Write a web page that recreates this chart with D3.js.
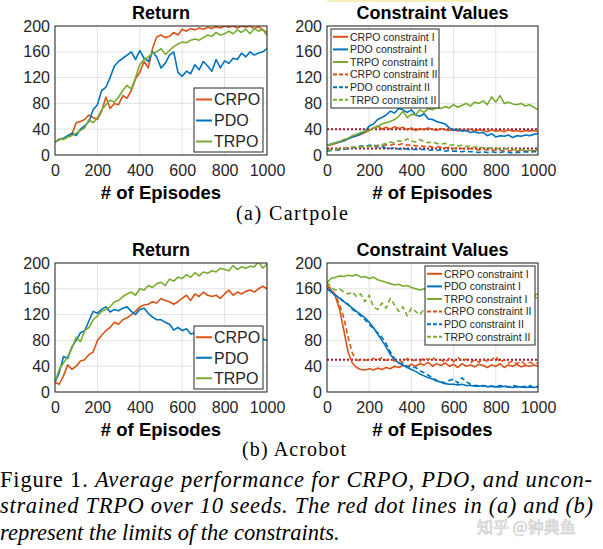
<!DOCTYPE html>
<html>
<head>
<meta charset="utf-8">
<script src="https://cdn.jsdelivr.net/npm/d3@7"></script>
<style>
  body { margin: 0; background: #fff; }
  svg { display: block; }
</style>
</head>
<body>
<div id="d3"></div>
<script>
// episodes are sampled every 20
const episodes = d3.range(0, 1001, 20);
const xTicks = [0, 200, 400, 600, 800, 1000];
const yTicks = [0, 40, 80, 120, 160, 200];

// Cartpole - return
const cartCrpoReturn = [20,24,25,28,32,50,52,55,62,58,55,68,90,72,80,78,92,88,100,118,128,145,135,165,183,186,182,184,190,186,195,192,196,194,197,195,198,196,199,197,200,198,200,197,200,198,200,196,199,194,190];
const cartPdoReturn = [20,24,26,30,34,30,40,45,52,70,78,100,105,120,138,145,150,155,160,148,162,150,145,160,152,135,142,155,160,128,122,130,126,140,132,145,138,130,148,135,146,142,150,148,158,152,160,155,158,160,165];
const cartTrpoReturn = [20,25,24,28,30,34,38,42,55,50,58,70,78,85,82,90,100,108,102,120,140,148,152,158,160,165,156,162,168,172,175,174,178,180,178,182,186,184,190,186,188,192,188,194,190,195,188,196,192,195,185];

// Cartpole - constraint values
const cartCrpoC1 = [15,16,18,20,22,25,28,30,32,35,38,42,45,40,43,40,44,41,43,39,42,38,41,39,42,40,38,41,39,38,40,37,39,38,40,37,39,38,36,39,37,38,36,39,37,38,36,38,37,38,36];
const cartPdoC1 = [15,17,19,20,22,25,28,30,33,36,45,48,55,58,62,68,65,72,70,66,70,62,60,64,56,55,52,50,48,42,38,40,37,38,35,36,34,35,30,33,28,30,29,31,27,30,29,31,30,32,33];
const cartTrpoC1 = [15,17,19,21,24,26,30,32,35,37,38,42,44,48,50,52,55,60,68,58,63,62,70,66,72,70,74,72,75,73,78,74,77,80,76,82,80,84,78,90,82,92,80,82,79,78,80,76,78,74,70];
const cartCrpoC2 = [8,9,9,10,10,11,12,12,13,13,14,13,15,14,16,15,17,16,18,15,16,14,15,13,14,12,13,12,11,12,10,11,10,9,10,9,8,9,8,7,8,7,7,6,7,6,7,6,6,7,6];
const cartPdoC2 = [6,7,8,8,9,10,11,12,14,13,15,16,12,13,11,10,11,9,10,9,8,9,8,9,7,8,7,8,6,7,6,6,5,6,5,5,4,5,4,5,4,4,5,4,3,4,4,5,4,5,5];
const cartTrpoC2 = [8,8,9,10,10,11,12,11,13,12,14,12,14,16,18,20,19,22,21,25,22,20,24,21,19,20,18,17,18,15,16,14,15,13,14,12,13,11,12,10,11,9,10,9,8,9,8,8,7,8,8];
const cartLimits = [40, 10];

// Acrobot - return
const acroCrpoReturn = [15,12,25,42,35,40,48,50,58,62,80,88,95,100,108,105,112,115,120,125,132,135,136,140,138,145,142,140,136,140,145,150,142,152,148,155,150,148,150,145,152,158,150,155,152,156,158,155,160,164,160];
const acroPdoReturn = [15,30,55,52,70,80,92,95,110,125,122,128,132,124,128,126,130,132,125,120,128,130,122,116,112,112,108,105,96,100,95,98,90,92,85,88,84,86,82,84,80,82,79,83,80,82,78,81,79,82,80];
const acroTrpoReturn = [15,35,45,55,68,85,78,95,100,112,118,125,128,132,140,142,148,152,155,150,160,158,165,162,168,170,165,175,172,178,176,182,178,185,180,186,184,188,186,192,190,188,196,190,194,192,195,194,202,192,198];

// Acrobot - constraint values
const acroCrpoC1 = [165,158,148,128,95,62,45,38,35,34,36,34,37,35,38,36,40,38,41,39,43,40,44,42,46,40,44,41,45,40,43,38,44,40,42,39,43,41,38,42,40,44,38,42,40,43,39,41,40,42,40];
const acroPdoC1 = [160,155,150,145,140,135,130,125,120,115,108,100,90,80,70,58,50,45,42,38,35,32,28,25,22,20,17,15,13,12,12,11,12,10,10,9,9,10,8,9,8,8,9,8,7,8,8,7,8,7,8];
const acroTrpoC1 = [170,176,178,180,179,181,180,182,178,179,176,178,174,172,170,168,166,167,164,165,162,160,158,160,156,158,160,158,157,158,160,157,158,156,158,155,157,155,156,154,156,153,155,152,154,152,153,150,152,150,152];
const acroCrpoC2 = [165,160,150,135,115,85,60,50,48,50,48,52,50,53,49,52,48,50,46,52,48,50,47,53,50,54,48,50,46,52,47,54,48,51,45,50,46,52,47,50,55,46,50,45,48,44,48,43,46,44,45];
const acroPdoC2 = [160,157,150,146,140,136,128,124,118,112,105,98,92,85,75,62,52,45,44,40,38,38,33,30,26,22,18,16,14,18,20,14,22,16,12,10,10,9,10,9,8,10,9,8,10,9,8,9,10,7,9];
const acroTrpoC2 = [170,162,158,160,155,152,155,148,152,140,150,132,128,138,130,145,135,125,132,118,130,125,120,128,122,125,120,128,122,126,120,130,124,128,122,130,126,132,128,135,130,136,132,138,134,140,136,142,138,148,145];
const acroLimits = [50];

const orange = "#D95319";
const blue = "#0072BD";
const green = "#77AC30";
const limitRed = "#A2142F";

const returnNames = ["CRPO", "PDO", "TRPO"];
const constraintNames = ["CRPO constraint I", "PDO constraint I", "TRPO constraint I",
  "CRPO constraint II", "PDO constraint II", "TRPO constraint II"];

const sans = "'Liberation Sans', Arial, sans-serif";
const serif = "'Liberation Serif', 'Times New Roman', serif";

const svg = d3.select("#d3").append("svg").attr("width", 603).attr("height", 549);

let clipCount = 0;

function drawPanel(opt) {
  const x = d3.scaleLinear().domain([0, 1000]).range([opt.left, opt.right]);
  const y = d3.scaleLinear().domain([0, 200]).range([opt.bottom, opt.top]);
  const g = svg.append("g");

  // grid
  g.selectAll(".gx").data(xTicks).enter().append("line")
    .attr("x1", (d) => x(d)).attr("x2", (d) => x(d))
    .attr("y1", opt.top).attr("y2", opt.bottom)
    .attr("stroke", "#e3e3e3").attr("stroke-width", 1);
  g.selectAll(".gy").data(yTicks).enter().append("line")
    .attr("x1", opt.left).attr("x2", opt.right)
    .attr("y1", (d) => y(d)).attr("y2", (d) => y(d))
    .attr("stroke", "#e3e3e3").attr("stroke-width", 1);

  const clipId = "clip" + clipCount++;
  svg.append("clipPath").attr("id", clipId).append("rect")
    .attr("x", opt.left).attr("y", opt.top)
    .attr("width", opt.right - opt.left).attr("height", opt.bottom - opt.top);

  const line = d3.line().x((d, i) => x(episodes[i])).y((d) => y(d));
  const plot = g.append("g").attr("clip-path", `url(#${clipId})`);

  (opt.limits || []).forEach((v) => {
    plot.append("line")
      .attr("x1", opt.left).attr("x2", opt.right)
      .attr("y1", y(v)).attr("y2", y(v))
      .attr("stroke", limitRed).attr("stroke-width", 2)
      .attr("stroke-dasharray", "2,2");
  });

  opt.series.forEach((s) => {
    plot.append("path").datum(s.values)
      .attr("fill", "none")
      .attr("stroke", s.color)
      .attr("stroke-width", 1.6)
      .attr("stroke-dasharray", s.dashed ? "5,3" : null)
      .attr("stroke-linejoin", "round")
      .attr("d", line);
  });

  // axes box + tick labels
  const xAxis = d3.axisBottom(x).tickValues(xTicks).tickFormat(d3.format("d")).tickSize(0).tickPadding(10);
  const yAxis = d3.axisLeft(y).tickValues(yTicks).tickFormat(d3.format("d")).tickSize(0).tickPadding(5);
  const ax = g.append("g").attr("transform", `translate(0,${opt.bottom})`).call(xAxis);
  const ay = g.append("g").attr("transform", `translate(${opt.left},0)`).call(yAxis);
  [ax, ay].forEach((a) => {
    a.select(".domain").remove();
    a.selectAll("text").attr("font-family", sans)
      .attr("font-size", 16).attr("fill", "#262626");
  });
  g.append("rect")
    .attr("x", opt.left).attr("y", opt.top)
    .attr("width", opt.right - opt.left).attr("height", opt.bottom - opt.top)
    .attr("fill", "none").attr("stroke", "#262626").attr("stroke-width", 1);

  g.append("text")
    .attr("x", (opt.left + opt.right) / 2).attr("y", opt.top - 7)
    .attr("text-anchor", "middle")
    .attr("font-family", sans)
    .attr("font-weight", "bold").attr("font-size", 18)
    .text(opt.title);
  g.append("text")
    .attr("x", (opt.left + opt.right) / 2).attr("y", opt.bottom + 44)
    .attr("text-anchor", "middle")
    .attr("font-family", sans)
    .attr("font-weight", "bold").attr("font-size", 18.5)
    .text("# of Episodes");

  // legend
  const lg = opt.legend;
  const leg = g.append("g");
  leg.append("rect")
    .attr("x", lg.x).attr("y", lg.y).attr("width", lg.w).attr("height", lg.h)
    .attr("fill", "#fff").attr("stroke", "#262626").attr("stroke-width", 1);
  opt.series.forEach((s, i) => {
    const cy = lg.y + lg.pad + lg.step * (i + 0.5);
    leg.append("line")
      .attr("x1", lg.x + 2).attr("x2", lg.x + 2 + lg.sample)
      .attr("y1", cy).attr("y2", cy)
      .attr("stroke", s.color).attr("stroke-width", 2)
      .attr("stroke-dasharray", s.dashed ? "4,2" : null);
    leg.append("text")
      .attr("x", lg.x + 4 + lg.sample).attr("y", cy)
      .attr("dy", "0.36em")
      .attr("font-family", sans)
      .attr("font-size", lg.font).attr("fill", "#262626")
      .text(s.name);
  });
}

function returnSeries(c, p, t) {
  return [
    { name: returnNames[0], values: c, color: orange },
    { name: returnNames[1], values: p, color: blue },
    { name: returnNames[2], values: t, color: green },
  ];
}

function constraintSeries(arr) {
  const colors = [orange, blue, green, orange, blue, green];
  return arr.map((v, i) => ({ name: constraintNames[i], values: v, color: colors[i], dashed: i > 2 }));
}

// faint highlight above the right title
svg.append("rect").attr("x", 327).attr("y", 0).attr("width", 146).attr("height", 2)
  .attr("fill", "#f7efb8");

drawPanel({
  left: 55, right: 267, top: 26, bottom: 155, title: "Return",
  series: returnSeries(cartCrpoReturn, cartPdoReturn, cartTrpoReturn),
  legend: { x: 194, y: 88, w: 69, h: 64, pad: 1, step: 21, sample: 16, font: 16 },
});
drawPanel({
  left: 327, right: 538, top: 26, bottom: 155, title: "Constraint Values",
  limits: cartLimits,
  series: constraintSeries([cartCrpoC1, cartPdoC1, cartTrpoC1, cartCrpoC2, cartPdoC2, cartTrpoC2]),
  legend: { x: 331, y: 29, w: 108, h: 79, pad: 1.5, step: 12.6, sample: 15, font: 10.5 },
});
drawPanel({
  left: 55, right: 267, top: 263, bottom: 392, title: "Return",
  series: returnSeries(acroCrpoReturn, acroPdoReturn, acroTrpoReturn),
  legend: { x: 194, y: 326, w: 69, h: 63, pad: 1, step: 20.5, sample: 16, font: 16 },
});
drawPanel({
  left: 327, right: 538, top: 263, bottom: 392, title: "Constraint Values",
  limits: acroLimits,
  series: constraintSeries([acroCrpoC1, acroPdoC1, acroTrpoC1, acroCrpoC2, acroPdoC2, acroTrpoC2]),
  legend: { x: 425, y: 266, w: 110, h: 79, pad: 1.5, step: 12.6, sample: 15, font: 10.5 },
});

// sub captions
svg.append("text").attr("x", 236).attr("y", 220)
  .attr("font-family", serif).attr("font-size", 20)
  .attr("textLength", 112).attr("lengthAdjust", "spacing")
  .text("(a)  Cartpole");
svg.append("text").attr("x", 242).attr("y", 456)
  .attr("font-family", serif).attr("font-size", 20)
  .attr("textLength", 104).attr("lengthAdjust", "spacing")
  .text("(b)  Acrobot");

// figure caption
const l1 = svg.append("text").attr("x", 0).attr("y", 487)
  .attr("font-family", serif).attr("font-size", 22.5)
  .attr("textLength", 592).attr("lengthAdjust", "spacing");
l1.append("tspan").text("Figure 1. ");
l1.append("tspan").attr("font-style", "italic").text("Average performance for CRPO, PDO, and uncon-");
svg.append("text").attr("x", 0).attr("y", 513)
  .attr("font-family", serif).attr("font-size", 22.5).attr("font-style", "italic")
  .attr("textLength", 593).attr("lengthAdjust", "spacing")
  .text("strained TRPO over 10 seeds.  The red dot lines in (a) and (b)");
svg.append("text").attr("x", 0).attr("y", 540)
  .attr("font-family", serif).attr("font-size", 22.5).attr("font-style", "italic")
  .text("represent the limits of the constraints.");

// watermark
svg.append("text").attr("x", 477).attr("y", 533)
  .attr("font-family", "'Noto Sans CJK SC', sans-serif").attr("font-size", 16)
  .attr("fill", "#f0f0f0").attr("stroke", "#c8c8c8").attr("stroke-width", 0.6)
  .text("知乎 @钟典鱼");
</script>
</body>
</html>
